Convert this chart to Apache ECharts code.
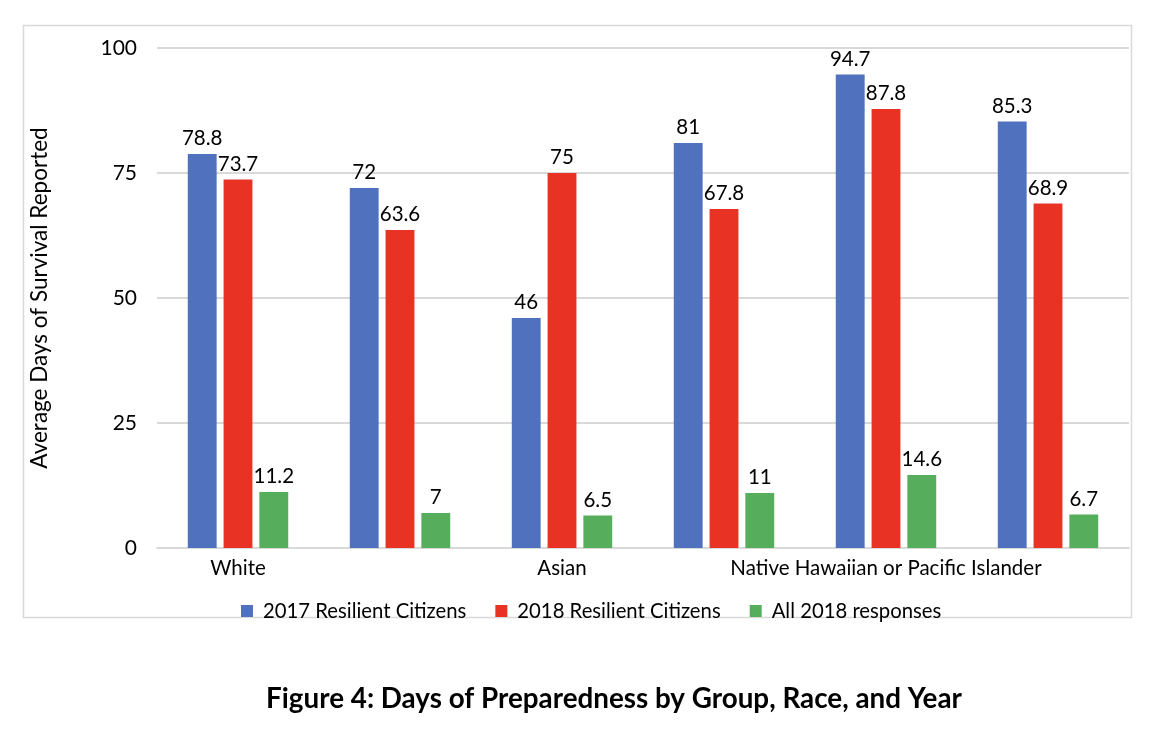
<!DOCTYPE html>
<html>
<head>
<meta charset="utf-8">
<script src="https://cdn.jsdelivr.net/npm/echarts@6/dist/echarts.min.js"></script>
<style>
html,body{margin:0;padding:0;background:#fff;}
#c{width:1164px;height:738px;}
</style>
</head>
<body>
<div id="c"></div>
<script>
const categories = ["White", "Black or African American", "Asian", "American Indian or Alaska Native", "Native Hawaiian or Pacific Islander", "Two or More Races"];
const seriesNames = ["2017 Resilient Citizens", "2018 Resilient Citizens", "All 2018 responses"];
const values2017 = [78.8, 72, 46, 81, 94.7, 85.3];
const values2018 = [73.7, 63.6, 75, 67.8, 87.8, 68.9];
const valuesAll2018 = [11.2, 7, 6.5, 11, 14.6, 6.7];
const yTicks = [0, 25, 50, 75, 100];

const colors = ["#4F71BE", "#E83324", "#56AD5C"];
const FONT = "Lato, 'Open Sans', sans-serif";

const chart = echarts.init(document.getElementById('c'), null, {renderer: 'canvas'});

function mkSeries(name, data, color) {
  return {
    name: name,
    type: 'bar',
    data: data,
    barGap: '24%',
    barCategoryGap: '38%',
    itemStyle: {color: color},
    label: {
      show: true,
      position: 'top',
      distance: 5,
      color: '#000',
      fontFamily: FONT,
      fontSize: 20.5
    }
  };
}

chart.setOption({
  animation: false,
  color: colors,
  title: {
    text: "Figure 4: Days of Preparedness by Group, Race, and Year",
    left: 609,
    textAlign: 'center',
    top: 680,
    textStyle: {fontFamily: FONT, fontSize: 27.8, fontWeight: 'bold', color: '#000'}
  },
  graphic: [{
    type: 'rect',
    shape: {x: 23.5, y: 25.5, width: 1108, height: 592},
    style: {fill: 'none', stroke: '#D9D9D9', lineWidth: 1.5},
    silent: true,
    z: -1
  }],
  legend: {
    data: seriesNames,
    left: 236,
    top: 596,
    itemWidth: 12,
    itemHeight: 12,
    itemGap: 29,
    icon: 'rect',
    textStyle: {fontFamily: FONT, fontSize: 20.3, color: '#000', padding: [0, 0, 0, 5]}
  },
  grid: {left: 157, right: 35, top: 48, bottom: 190, containLabel: false},
  xAxis: {
    type: 'category',
    data: categories,
    axisLine: {show: true, lineStyle: {color: '#D9D9D9', width: 2}},
    axisTick: {show: false},
    axisLabel: {
      interval: 1,
      color: '#000',
      fontFamily: FONT,
      fontSize: 20.5,
      margin: 10
    }
  },
  yAxis: {
    type: 'value',
    min: 0,
    max: 100,
    interval: 25,
    name: "Average Days of Survival Reported",
    nameLocation: 'middle',
    nameGap: 106,
    nameRotate: 90,
    nameTextStyle: {fontFamily: FONT, fontSize: 22.5, color: '#000'},
    axisLine: {show: false},
    axisTick: {show: false},
    splitLine: {lineStyle: {color: '#D9D9D9', width: 2}},
    axisLabel: {
      color: '#000',
      fontFamily: FONT,
      fontSize: 21,
      margin: 20,
      formatter: function (v) { return yTicks.indexOf(v) >= 0 ? String(v) : ''; }
    }
  },
  series: [
    mkSeries(seriesNames[0], values2017, colors[0]),
    mkSeries(seriesNames[1], values2018, colors[1]),
    mkSeries(seriesNames[2], valuesAll2018, colors[2])
  ]
});
</script>
</body>
</html>
